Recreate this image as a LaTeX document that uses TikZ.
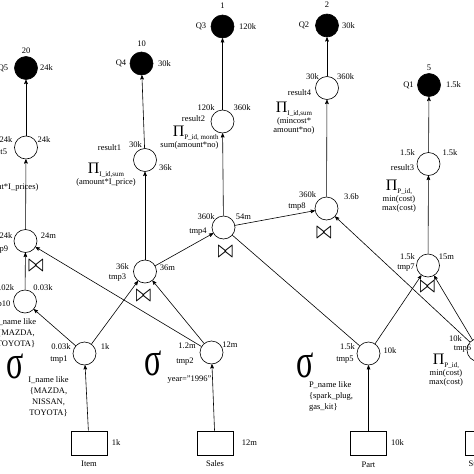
\documentclass[tikz,border=0pt]{standalone}
\usepackage{fontspec}
\setmainfont{Liberation Serif}
\usetikzlibrary{positioning,arrows}
\tikzset{
	>=stealth'
}
\newcommand{\projsym}[1]{{\fontsize{16}{16}\selectfont Π}\raisebox{-3pt}{\fontsize{7}{7}\selectfont #1}}
\newcommand{\selsym}{\scalebox{1}[1.5]{\fontsize{32}{32}\selectfont σ}}
\newcommand{\joinsym}{\scalebox{2.2}[3]{$\bowtie$}}

\begin{document}
\begin{tikzpicture}[
x = 1pt, y = -1pt,
line width = .6pt,
every node/.style = {
	font = \fontsize{8.5}{10}\selectfont,
	inner sep = 1pt
},
op/.style = {
	draw,
	circle,
	minimum size = 23pt,
	inner sep = 0pt
},
query/.style = {
	op,
	fill = black
},
relation/.style = {
	draw,
	minimum width = 36pt,
	minimum height = 24pt
},
lbl/.style = {
	on grid
},
sig/.style = {
	on grid,
	inner sep = 0pt,
	text height = 21pt,
	text depth = 0pt
},
pred/.style = {
	on grid,
	font = \fontsize{8.5}{11}\selectfont
},
proj/.style = {
	on grid,
	font = \fontsize{8.5}{9}\selectfont
},
flow/.style = {
	->
}
]

\useasboundingbox (0,0) rectangle (474,474);
\clip (0,0) rectangle (474,474);

% base relations
\node (item) [relation] at (89,443) {};
\node (item_t) [lbl, below = 21pt of item] {Item};
\node (item_n) [lbl, right = 27pt of item] {1k};
\node (sales) [relation] at (215,443) {};
\node (sales_t) [lbl, below = 21pt of sales] {Sales};
\node (sales_n) [lbl, right = 34.5pt of sales] {12m};
\node (part) [relation] at (368.5,443) {};
\node (part_t) [lbl, below = 22pt of part] {Part};
\node (part_n) [lbl, right = 29pt of part] {10k};
\node (supplier) [relation] at (483,443) {};
\node (supplier_t) [lbl, below = 21pt of supplier] {Supplier};

% selections and projection on the relations
\node (tmp1) [op] at (84.5,353.5) {};
\node (tmp1_in) [lbl, above left = 6.5pt and 23.5pt of tmp1] {0.03k};
\node (tmp1_out) [lbl, above right = 6.5pt and 20.5pt of tmp1] {1k};
\node (tmp1_t) [lbl, below left = 6.5pt and 25.5pt of tmp1] {tmp1};
\node (tmp1_s) [sig, below left = 14pt and 69.5pt of tmp1] {\selsym};
\node (tmp1_c) [pred, below left = 43.5pt and 36pt of tmp1, align=center] {I\_name like\\\{MAZDA,\\NISSAN,\\TOYOTA\}};

\node (tmp2) [op] at (211.5,352.5) {};
\node (tmp2_in) [lbl, above left = 6.5pt and 24.5pt of tmp2] {1.2m};
\node (tmp2_out) [lbl, above right = 7.5pt and 18.5pt of tmp2] {12m};
\node (tmp2_t) [lbl, below left = 9.5pt and 26.5pt of tmp2] {tmp2};
\node (tmp2_s) [sig, below left = 12.5pt and 58.5pt of tmp2] {\selsym};
\node (tmp2_c) [pred, below left = 27.5pt and 22pt of tmp2] {year="1996"};

\node (tmp5) [op] at (368.5,353.5) {};
\node (tmp5_in) [lbl, above left = 6.5pt and 21pt of tmp5] {1.5k};
\node (tmp5_out) [lbl, above right = 2.5pt and 21.5pt of tmp5] {10k};
\node (tmp5_t) [lbl, below left = 6.5pt and 23.5pt of tmp5] {tmp5};
\node (tmp5_s) [sig, below left = 13.5pt and 63.5pt of tmp5] {\selsym};
\node (tmp5_c) [pred, below left = 42.5pt and 37.5pt of tmp5, align=left] {P\_name like\\\{spark\_plug,\\gas\_kit\}};

\node (tmp6) [op] at (478.5,350) {};
\node (tmp6_in) [lbl, above left = 11pt and 23pt of tmp6] {10k};
\node (tmp6_t) [lbl, above left = 1pt and 16pt of tmp6] {tmp6};
\node (tmp6_c) [proj, below left = 20pt and 32.5pt of tmp6, align=center] {\projsym{P\_id,}\\min(cost)\\max(cost)};

\node (tmp10) [op] at (25,301.5) {};
\node (tmp10_in) [lbl, above left = 13.5pt and 20.5pt of tmp10] {0.02k};
\node (tmp10_out) [lbl, above right = 13.5pt and 18pt of tmp10] {0.03k};
\node (tmp10_t) [lbl, below left = 3.5pt and 25.5pt of tmp10] {tmp10};
\node (tmp10_c) [pred, below left = 31.5pt and 9pt of tmp10, align=center] {I\_name like\\\{MAZDA,\\TOYOTA\}};

% joins
\node (tmp9) [op] at (25.5,241) {};
\node (tmp9_in) [lbl, above left = 5pt and 19.5pt of tmp9] {24k};
\node (tmp9_out) [lbl, above right = 5pt and 23pt of tmp9] {24m};
\node (tmp9_t) [lbl, below left = 9pt and 26pt of tmp9] {tmp9};
\node (tmp9_j) [lbl, below right = 25pt and 10.5pt of tmp9] {\joinsym};

\node (tmp3) [op] at (145,271.5) {};
\node (tmp3_in) [lbl, above left = 4.5pt and 22.5pt of tmp3] {36k};
\node (tmp3_out) [lbl, above right = 3.5pt and 22.5pt of tmp3] {36m};
\node (tmp3_t) [lbl, below left = 6.5pt and 27.5pt of tmp3] {tmp3};
\node (tmp3_j) [lbl, below left = 24.5pt and 1.5pt of tmp3] {\joinsym};

\node (tmp4) [op] at (223.5,227.5) {};
\node (tmp4_in) [lbl, above left = 10.5pt and 17.5pt of tmp4] {360k};
\node (tmp4_out) [lbl, above right = 10.5pt and 20pt of tmp4] {54m};
\node (tmp4_t) [lbl, below left = 4.5pt and 25.5pt of tmp4] {tmp4};
\node (tmp4_j) [lbl, below right = 24.5pt and 2pt of tmp4] {\joinsym};

\node (tmp8) [op] at (326.5,208.5) {};
\node (tmp8_in) [lbl, above left = 13.5pt and 19pt of tmp8] {360k};
\node (tmp8_out) [lbl, above right = 11.5pt and 25pt of tmp8] {3.6b};
\node (tmp8_t) [lbl, above left = 1.5pt and 29.5pt of tmp8] {tmp8};
\node (tmp8_j) [lbl, below left = 24.5pt and 2.5pt of tmp8] {\joinsym};

\node (tmp7) [op] at (428,265.5) {};
\node (tmp7_in) [lbl, above left = 8.5pt and 20.5pt of tmp7] {1.5k};
\node (tmp7_out) [lbl, above right = 8.5pt and 18.5pt of tmp7] {15m};
\node (tmp7_t) [lbl, below left = 2.5pt and 22pt of tmp7] {tmp7};
\node (tmp7_j) [lbl, below left = 21.5pt and .5pt of tmp7] {\joinsym};

% projections
\node (result5) [op] at (26,147.5) {};
\node (result5_in) [lbl, above left = 7.5pt and 20pt of result5] {24k};
\node (result5_out) [lbl, above right = 7.5pt and 18pt of result5] {24k};
\node (result5_t) [lbl, below left = 4.5pt and 30.5pt of result5] {result5};
\node (result5_c) [proj, below left = 39.5pt and 19pt of result5] {(amount*I\_prices)};

\node (result1) [op] at (145,160) {};
\node (result1_in) [lbl, above left = 15pt and 9.5pt of result1] {30k};
\node (result1_out) [lbl, below right = 8pt and 20.5pt of result1] {36k};
\node (result1_t) [lbl, above left = 12pt and 35.5pt of result1] {result1};
\node (result1_c) [proj, below left = 15pt and 39pt of result1, align=center] {\projsym{I\_id,sum}\\(amount*I\_price)};

\node (result2) [op] at (222.5,121.5) {};
\node (result2_in) [lbl, above left = 13.5pt and 16.5pt of result2] {120k};
\node (result2_out) [lbl, above right = 13.5pt and 19.5pt of result2] {360k};
\node (result2_t) [lbl, above left = 2.5pt and 29pt of result2] {result2};
\node (result2_c) [proj, below left = 16pt and 33pt of result2, align=right] {\projsym{P\_id, month}\\sum(amount*no)};

\node (result4) [op] at (327,88) {};
\node (result4_in) [lbl, above left = 11pt and 14.5pt of result4] {30k};
\node (result4_out) [lbl, above right = 11pt and 18.5pt of result4] {360k};
\node (result4_t) [lbl, below left = 5pt and 27.5pt of result4] {result4};
\node (result4_c) [proj, below left = 30pt and 33pt of result4, align=center] {\projsym{I\_id,sum}\\(mincost*\\amount*no)};

\node (result3) [op] at (428.5,164) {};
\node (result3_in) [lbl, above left = 11pt and 21pt of result3] {1.5k};
\node (result3_out) [lbl, above right = 11pt and 21.5pt of result3] {1.5k};
\node (result3_t) [lbl, below left = 4pt and 26pt of result3] {result3};
\node (result3_c) [proj, below left = 32pt and 29.5pt of result3, align=center] {\projsym{P\_id,}\\min(cost)\\max(cost)};

% queries
\node (q5) [query] at (26,68) {};
\node (q5_n) [lbl, above = 17pt of q5] {20};
\node (q5_t) [lbl, left = 23pt of q5] {Q5};
\node (q5_c) [lbl, right = 20.5pt of q5] {24k};
\node (q4) [query] at (141.5,63.5) {};
\node (q4_n) [lbl, above = 19.5pt of q4] {10};
\node (q4_t) [lbl, left = 20.5pt of q4] {Q4};
\node (q4_c) [lbl, right = 23pt of q4] {30k};
\node (q3) [query] at (222.5,26.5) {};
\node (q3_n) [lbl, above = 20.5pt of q3] {1};
\node (q3_t) [lbl, left = 21.5pt of q3] {Q3};
\node (q3_c) [lbl, right = 25pt of q3] {120k};
\node (q2) [query] at (327,25.5) {};
\node (q2_n) [lbl, above = 20.5pt of q2] {2};
\node (q2_t) [lbl, left = 23pt of q2] {Q2};
\node (q2_c) [lbl, right = 21.5pt of q2] {30k};
\node (q1) [query] at (429,85) {};
\node (q1_n) [lbl, above = 17pt of q1] {5};
\node (q1_t) [lbl, left = 20.5pt of q1] {Q1};
\node (q1_c) [lbl, right = 24.5pt of q1] {1.5k};

% data flow
\draw [flow] (item) -- (tmp1);
\draw [flow] (sales) -- (tmp2);
\draw [flow] (part) -- (tmp5);
\draw [flow] (supplier) -- (tmp6);
\draw [flow] (tmp1) -- (tmp10);
\draw [flow] (tmp1) -- (tmp3);
\draw [flow] (tmp2) -- (tmp9);
\draw [flow] (tmp2) -- (tmp3);
\draw [flow] (tmp10) -- (tmp9);
\draw [flow] (tmp9) -- (result5);
\draw [flow] (result5) -- (q5);
\draw [flow] (tmp3) -- (result1);
\draw [flow] (result1) -- (q4);
\draw [flow] (tmp3) -- (tmp4);
\draw (tmp5) -- (tmp4);
\draw [flow] (tmp4) -- (result2);
\draw [flow] (result2) -- (q3);
\draw [flow] (tmp4) -- (tmp8);
\draw [flow] (tmp6) -- (tmp8);
\draw [flow] (tmp8) -- (result4);
\draw [flow] (result4) -- (q2);
\draw [flow] (tmp5) -- (tmp7);
\draw [flow] (tmp6) -- (tmp7);
\draw [flow] (tmp7) -- (result3);
\draw [flow] (result3) -- (q1);

\end{tikzpicture}
\end{document}
